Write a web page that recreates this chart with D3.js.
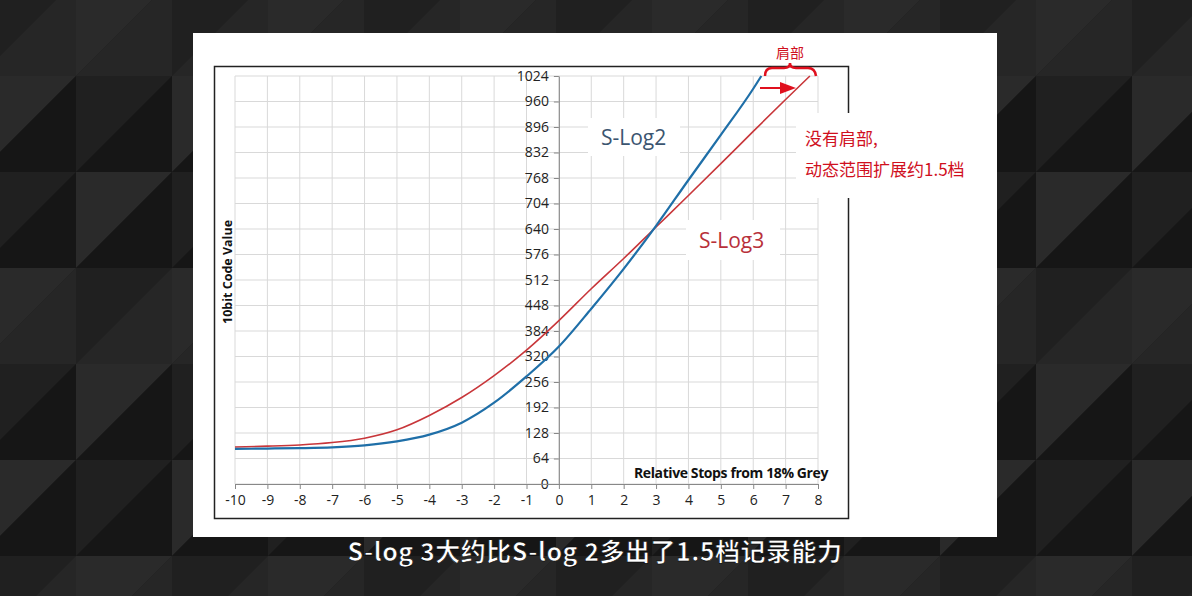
<!DOCTYPE html><html><head><meta charset="utf-8"><script src="https://cdn.jsdelivr.net/npm/d3@7"></script>
<style>body{margin:0;background:#1c1c1c;}svg{display:block}</style></head><body><svg id="c" width="1192" height="596"></svg><script>
const stops=[-10,-9,-8,-7,-6,-5,-4,-3,-2,-1,0,1,2,3,4,5,6,7,8];
const yTicks=[0,64,128,192,256,320,384,448,512,576,640,704,768,832,896,960,1024];
const slog2X=[-10,-9,-8,-7,-6,-5,-4,-3,-2,-1,0,1,2,3,4,5,6,6.25];
const slog2Y=[88,89,90,92,97,107,124,154,204,270,345,440,540,648,763,876,992,1024];
const slog3X=[-10,-9,-8,-7,-6,-5,-4,-3,-2,-1,0,1,2,3,4,5,6,7,7.75];
const slog3Y=[93,95,98,104,115,136,172,217,272,336,410,490,566,645,724,804,885,965,1024];
const svg=d3.select("#c");
const bg=svg.append("g");
for(let i=0;i<14;i++)for(let j=0;j<7;j++){const x=i*96-20,y=j*96-20;
 bg.append("path").attr("d",`M${x},${y}L${x+96},${y}L${x},${y+96}Z`).attr("fill",(i+j)%2?"#2a2a2a":"#202020");
 bg.append("path").attr("d",`M${x+96},${y}L${x+96},${y+96}L${x},${y+96}Z`).attr("fill",(i*3+j)%3?"#161616":"#262626");}
svg.append("rect").attr("x",193).attr("y",33).attr("width",804).attr("height",504).attr("fill","#fff");
svg.append("rect").attr("x",214.5).attr("y",66.5).attr("width",634).attr("height",452).attr("fill","none").attr("stroke","#222").attr("stroke-width",1.5);
const x=d3.scaleLinear().domain([-10,8]).range([235,818]);
const y=d3.scaleLinear().domain([0,1024]).range([484,76]);
const g=svg.append("g");
g.selectAll(".v").data(stops).join("line").attr("x1",d=>x(d)).attr("x2",d=>x(d)).attr("y1",y(1024)).attr("y2",y(0)).attr("stroke","#d9d9d9");
g.selectAll(".h").data(yTicks).join("line").attr("x1",x(-10)).attr("x2",x(8)).attr("y1",d=>y(d)).attr("y2",d=>y(d)).attr("stroke","#d9d9d9");
const fmt=d=>String(d);
svg.append("g").attr("transform",`translate(${x(0)},0)`).call(d3.axisLeft(y).tickValues(yTicks).tickSize(5).tickSizeOuter(0).tickFormat(fmt))
 .call(a=>{a.select(".domain").attr("stroke","#888");a.selectAll("line").attr("stroke","#888");a.selectAll("text").attr("font-family","Open Sans").attr("font-size",14).attr("fill","#222").attr("x",-10);});
svg.append("g").attr("transform",`translate(0,${y(0)})`).call(d3.axisBottom(x).tickValues(stops).tickSize(5).tickSizeOuter(0).tickFormat(fmt))
 .call(a=>{a.select(".domain").attr("stroke","#888");a.selectAll("line").attr("stroke","#888");a.selectAll("text").attr("font-family","Open Sans").attr("font-size",14).attr("fill","#222").attr("dy",13);});
const line=d3.line().curve(d3.curveMonotoneX);
svg.append("path").attr("d",line(slog3X.map((d,i)=>[x(d),y(slog3Y[i])]))).attr("fill","none").attr("stroke","#c8363a").attr("stroke-width",1.6);
svg.append("path").attr("d",line(slog2X.map((d,i)=>[x(d),y(slog2Y[i])]))).attr("fill","none").attr("stroke","#1f6fa8").attr("stroke-width",2.2);
svg.append("text").attr("transform","translate(232,272) rotate(-90)").attr("text-anchor","middle").attr("font-family","Open Sans").attr("font-weight","bold").attr("font-size",12.5).attr("fill","#111").text("10bit Code Value");
svg.append("text").attr("x",828).attr("y",478).attr("text-anchor","end").attr("font-family","Open Sans").attr("font-weight","bold").attr("font-size",14).attr("letter-spacing",-0.4).attr("fill","#111").text("Relative Stops from 18% Grey");
svg.append("rect").attr("x",588).attr("y",118).attr("width",92).attr("height",38).attr("fill","#fff");
svg.append("text").attr("x",601).attr("y",145).attr("font-family","Open Sans").attr("font-size",21).attr("fill","#3b5570").text("S-Log2");
svg.append("rect").attr("x",686).attr("y",220).attr("width",94).attr("height",40).attr("fill","#fff");
svg.append("text").attr("x",699).attr("y",248).attr("font-family","Open Sans").attr("font-size",21).attr("fill","#b8303a").text("S-Log3");
svg.append("rect").attr("x",796).attr("y",113).attr("width",200).attr("height",85).attr("fill","#fff");
const cjk="Noto Sans CJK SC";
svg.append("text").attr("x",805).attr("y",145).attr("font-family",cjk).attr("font-size",17).attr("fill","#d0101e").text("没有肩部,");
svg.append("text").attr("x",805).attr("y",176).attr("font-family",cjk).attr("font-size",17).attr("fill","#d0101e").text("动态范围扩展约1.5档");
svg.append("text").attr("x",790).attr("y",58).attr("text-anchor","middle").attr("font-family",cjk).attr("font-size",14).attr("fill","#d0101e").text("肩部");
svg.append("path").attr("d","M765,76 Q765,68 772,68 L784,68 Q790,68 790,63 Q790,68 796,68 L808,68 Q815,68 816,76").attr("fill","none").attr("stroke","#e0101e").attr("stroke-width",2.5);
svg.append("line").attr("x1",760).attr("x2",783).attr("y1",88).attr("y2",88).attr("stroke","#e0101e").attr("stroke-width",2);
svg.append("path").attr("d","M780,82 L796,88 L780,94Z").attr("fill","#e0101e");
svg.append("text").attr("x",595).attr("y",561).attr("text-anchor","middle").attr("font-family",cjk).attr("font-weight","bold").attr("font-size",25).attr("letter-spacing",0.5).attr("fill","#fff").attr("stroke","#000").attr("stroke-width",0.6).text("S-log 3大约比S-log 2多出了1.5档记录能力");
</script></body></html>
